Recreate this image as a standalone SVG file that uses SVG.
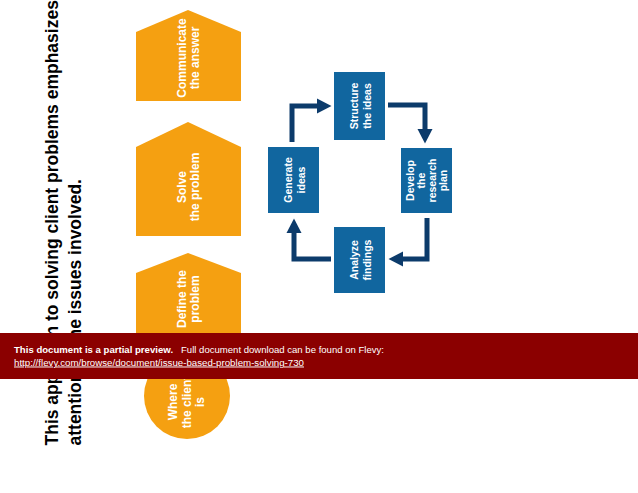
<svg xmlns="http://www.w3.org/2000/svg" width="638" height="493" viewBox="0 0 638 493">
<defs>
<style>
text{font-family:"Liberation Sans",Arial,sans-serif;}
.lead{font-size:17.5px;font-weight:bold;fill:#000;}
.ot{font-size:12px;font-weight:bold;fill:#fff;text-anchor:middle;}
.bt{font-size:10.5px;font-weight:bold;fill:#fff;text-anchor:middle;}
.orange{fill:#F5A011;}
.blue{fill:#11669F;}
.conn{fill:none;stroke:#0C3B6B;stroke-width:5;stroke-linejoin:miter;}
.bn{font-size:9.6px;fill:#fff;}
</style>
<marker id="ah" markerUnits="userSpaceOnUse" markerWidth="15" markerHeight="16" viewBox="0 0 15 16" refX="0" refY="8" orient="auto">
<path d="M0,0.5 L14.5,8 L0,15.5 Z" fill="#0C3B6B"/>
</marker>
</defs>
<rect width="638" height="493" fill="#fff"/>
<g id="lead-text">
<text class="lead" transform="rotate(-90)"><tspan x="-445.5" y="57.5">This approach to solving client problems emphasizes</tspan><tspan x="-445.5" y="80.5">attention to the issues involved.</tspan></text>
</g>
<g id="communicate">
<polygon class="orange" points="136,32 188,10 241,32 241,101 136,101"/>
<text class="ot" transform="rotate(-90)"><tspan x="-58" y="186">Communicate</tspan><tspan x="-58" y="199">the answer</tspan></text>
</g>
<g id="solve">
<polygon class="orange" points="136,147 188,122 241,147 241,236 136,236"/>
<text class="ot" transform="rotate(-90)"><tspan x="-187" y="186">Solve</tspan><tspan x="-187" y="199">the problem</tspan></text>
</g>
<g id="define">
<polygon class="orange" points="136,273 188,253 241,273 241,368 136,368"/>
<text class="ot" transform="rotate(-90)"><tspan x="-299" y="186">Define the</tspan><tspan x="-299" y="199">problem</tspan></text>
</g>
<g id="where">
<circle class="orange" cx="187" cy="396" r="43"/>
<text class="ot" transform="rotate(-90)"><tspan x="-402" y="177">Where</tspan><tspan x="-402" y="190.5">the client</tspan><tspan x="-402" y="204">is</tspan></text>
</g>
<g id="structure">
<rect class="blue" x="334" y="72" width="51" height="68"/>
<text class="bt" transform="rotate(-90)"><tspan x="-106" y="357.5">Structure</tspan><tspan x="-106" y="370.5">the ideas</tspan></text>
</g>
<g id="generate">
<rect class="blue" x="268" y="147" width="51" height="66"/>
<text class="bt" transform="rotate(-90)"><tspan x="-180" y="291.5">Generate</tspan><tspan x="-180" y="304.5">ideas</tspan></text>
</g>
<g id="develop">
<rect class="blue" x="401" y="148" width="51" height="65"/>
<text class="bt" transform="rotate(-90)"><tspan x="-180.5" y="413.5">Develop</tspan><tspan x="-180.5" y="424.5">the</tspan><tspan x="-180.5" y="435.5">research</tspan><tspan x="-180.5" y="446.5">plan</tspan></text>
</g>
<g id="analyze">
<rect class="blue" x="334" y="227" width="51" height="66"/>
<text class="bt" transform="rotate(-90)"><tspan x="-260" y="357.5">Analyze</tspan><tspan x="-260" y="370.5">findings</tspan></text>
</g>
<g id="connectors">
<path class="conn" d="M292,142 V106 H317" marker-end="url(#ah)"/>
<path class="conn" d="M388,105 H425 V129" marker-end="url(#ah)"/>
<path class="conn" d="M427,218 V259 H403" marker-end="url(#ah)"/>
<path class="conn" d="M331,259 H294 V233" marker-end="url(#ah)"/>
</g>
<g id="banner">
<rect x="0" y="333" width="638" height="46" fill="#8B0000"/>
<text class="bn" x="14" y="353"><tspan font-weight="bold">This document is a partial preview.</tspan></text>
<text class="bn" x="181" y="353" textLength="203" lengthAdjust="spacingAndGlyphs">Full document download can be found on Flevy:</text>
<text class="bn" x="14" y="365.5" text-decoration="underline" textLength="290" lengthAdjust="spacingAndGlyphs">http://flevy.com/browse/document/issue-based-problem-solving-730</text>
</g>
</svg>
